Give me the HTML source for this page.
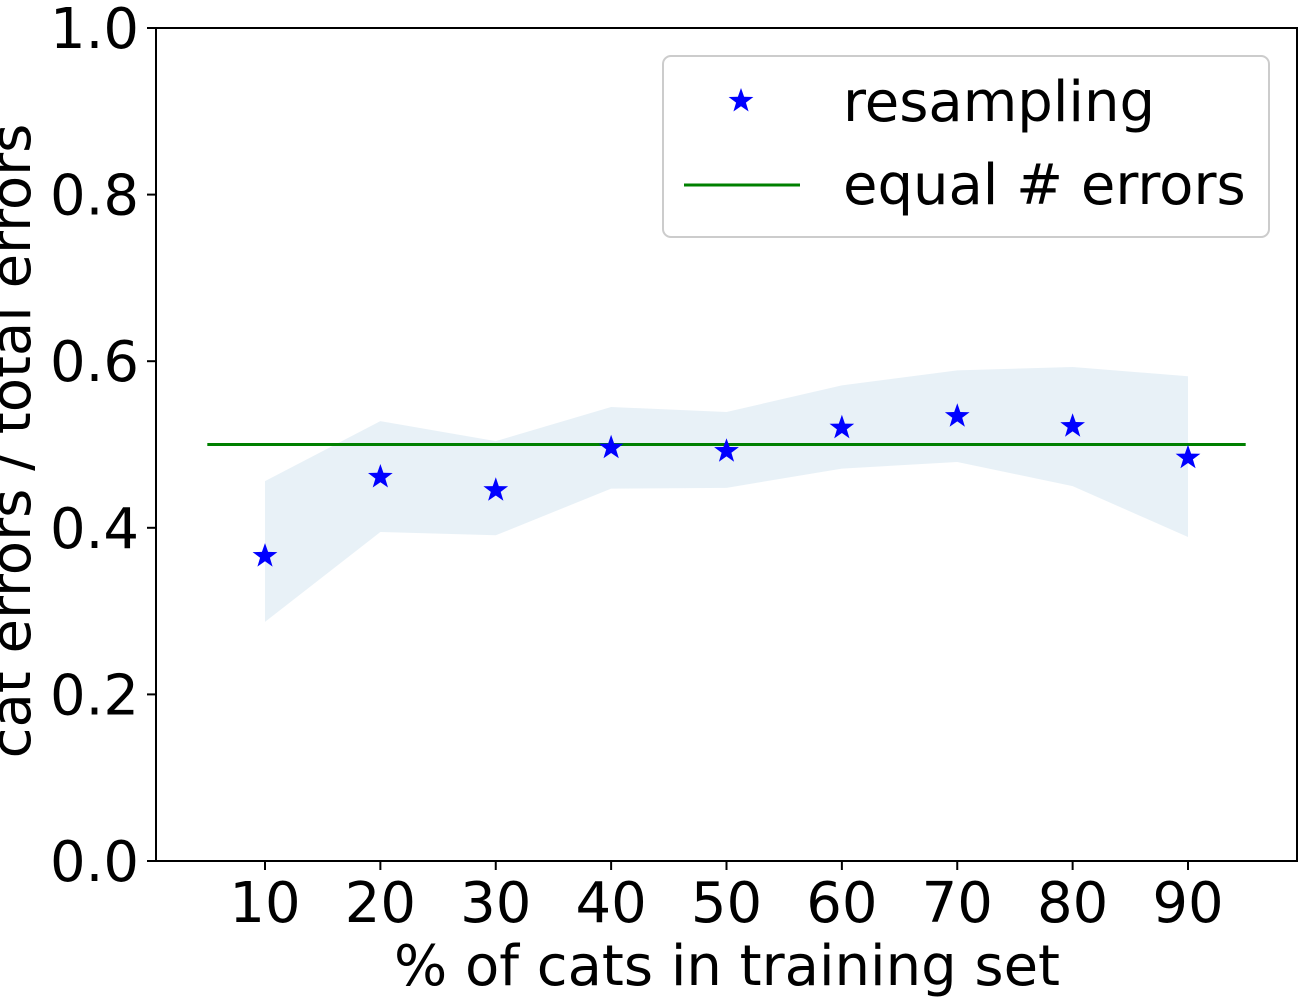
<!DOCTYPE html>
<html><head><meta charset="utf-8"><style>
body{margin:0;background:#fff}
svg text{font-family:"DejaVu Sans","Liberation Sans",sans-serif;fill:#000}
</style></head><body>
<svg id="chart" width="1301" height="999" viewBox="0 0 1301 999" xmlns="http://www.w3.org/2000/svg">
<g id="band"></g>
<line id="refline" stroke="#008000" stroke-width="3"/>
<g id="points"></g>
<rect x="156" y="28" width="1141" height="833" fill="none" stroke="#000" stroke-width="2"/>
<g id="xticks"></g>
<g id="yticks"></g>
<text x="727" y="985" font-size="56" text-anchor="middle">% of cats in training set</text>
<text transform="translate(30,441) rotate(-90)" font-size="56" text-anchor="middle">cat errors / total errors</text>
<g>
<rect x="663" y="56" width="606" height="181" rx="8" fill="#fff" fill-opacity="0.8" stroke="#ccc" stroke-width="2"/>
<path id="legstar" fill="#0000ff"/>
<text x="843" y="121" font-size="56">resampling</text>
<line x1="684" y1="185" x2="800" y2="185" stroke="#008000" stroke-width="3"/>
<text x="843" y="204" font-size="56">equal # errors</text>
</g>
</svg>
<script>
const categories=[10,20,30,40,50,60,70,80,90];
const resampling=[0.366,0.461,0.445,0.496,0.492,0.520,0.534,0.522,0.484];
const bandUpper=[0.456,0.528,0.504,0.545,0.539,0.571,0.589,0.593,0.582];
const bandLower=[0.287,0.395,0.391,0.447,0.448,0.471,0.479,0.450,0.389];
const refValue=0.5;
const refRange=[5,95];
const xTicks=[10,20,30,40,50,60,70,80,90];
const yTicks=[0.0,0.2,0.4,0.6,0.8,1.0];
const NS="http://www.w3.org/2000/svg";
const X=v=>265+(v-10)*(1188-265)/80;
const Y=v=>861-v*833;
function star(cx,cy,r){let p=[];for(let i=0;i<10;i++){const a=-Math.PI/2+i*Math.PI/5;const rr=i%2?r*0.4:r;p.push((cx+rr*Math.cos(a)).toFixed(1)+","+(cy+rr*Math.sin(a)).toFixed(1));}return "M"+p.join("L")+"Z";}
let pts=categories.map((c,i)=>X(c)+","+Y(bandUpper[i]));
for(let i=categories.length-1;i>=0;i--)pts.push(X(categories[i])+","+Y(bandLower[i]));
const poly=document.createElementNS(NS,"polygon");
poly.setAttribute("points",pts.join(" "));poly.setAttribute("fill","#1f77b4");poly.setAttribute("fill-opacity","0.1");


document.getElementById("band").appendChild(poly);
const rl=document.getElementById("refline");
rl.setAttribute("x1",X(refRange[0]));rl.setAttribute("x2",X(refRange[1]));rl.setAttribute("y1",Y(refValue));rl.setAttribute("y2",Y(refValue));
const g=document.getElementById("points");
categories.forEach((c,i)=>{const p=document.createElementNS(NS,"path");p.setAttribute("d",star(X(c),Y(resampling[i]),13));p.setAttribute("fill","#0000ff");


g.appendChild(p);});
document.getElementById("legstar").setAttribute("d",star(741,101,13));
const xg=document.getElementById("xticks");
xTicks.forEach(t=>{const l=document.createElementNS(NS,"line");l.setAttribute("x1",X(t));l.setAttribute("x2",X(t));l.setAttribute("y1",861);l.setAttribute("y2",870);l.setAttribute("stroke","#000");l.setAttribute("stroke-width","2");


xg.appendChild(l);
const tx=document.createElementNS(NS,"text");tx.setAttribute("x",X(t));tx.setAttribute("y",922);tx.setAttribute("font-size","56");tx.setAttribute("text-anchor","middle");tx.textContent=t;


xg.appendChild(tx);});
const yg=document.getElementById("yticks");
yTicks.forEach(t=>{const l=document.createElementNS(NS,"line");l.setAttribute("x1",147);l.setAttribute("x2",156);l.setAttribute("y1",Y(t));l.setAttribute("y2",Y(t));l.setAttribute("stroke","#000");l.setAttribute("stroke-width","2");


yg.appendChild(l);
const tx=document.createElementNS(NS,"text");tx.setAttribute("x",139);tx.setAttribute("y",Y(t)+20);tx.setAttribute("font-size","56");tx.setAttribute("text-anchor","end");tx.textContent=t.toFixed(1);


yg.appendChild(tx);});
</script>
</body></html>
